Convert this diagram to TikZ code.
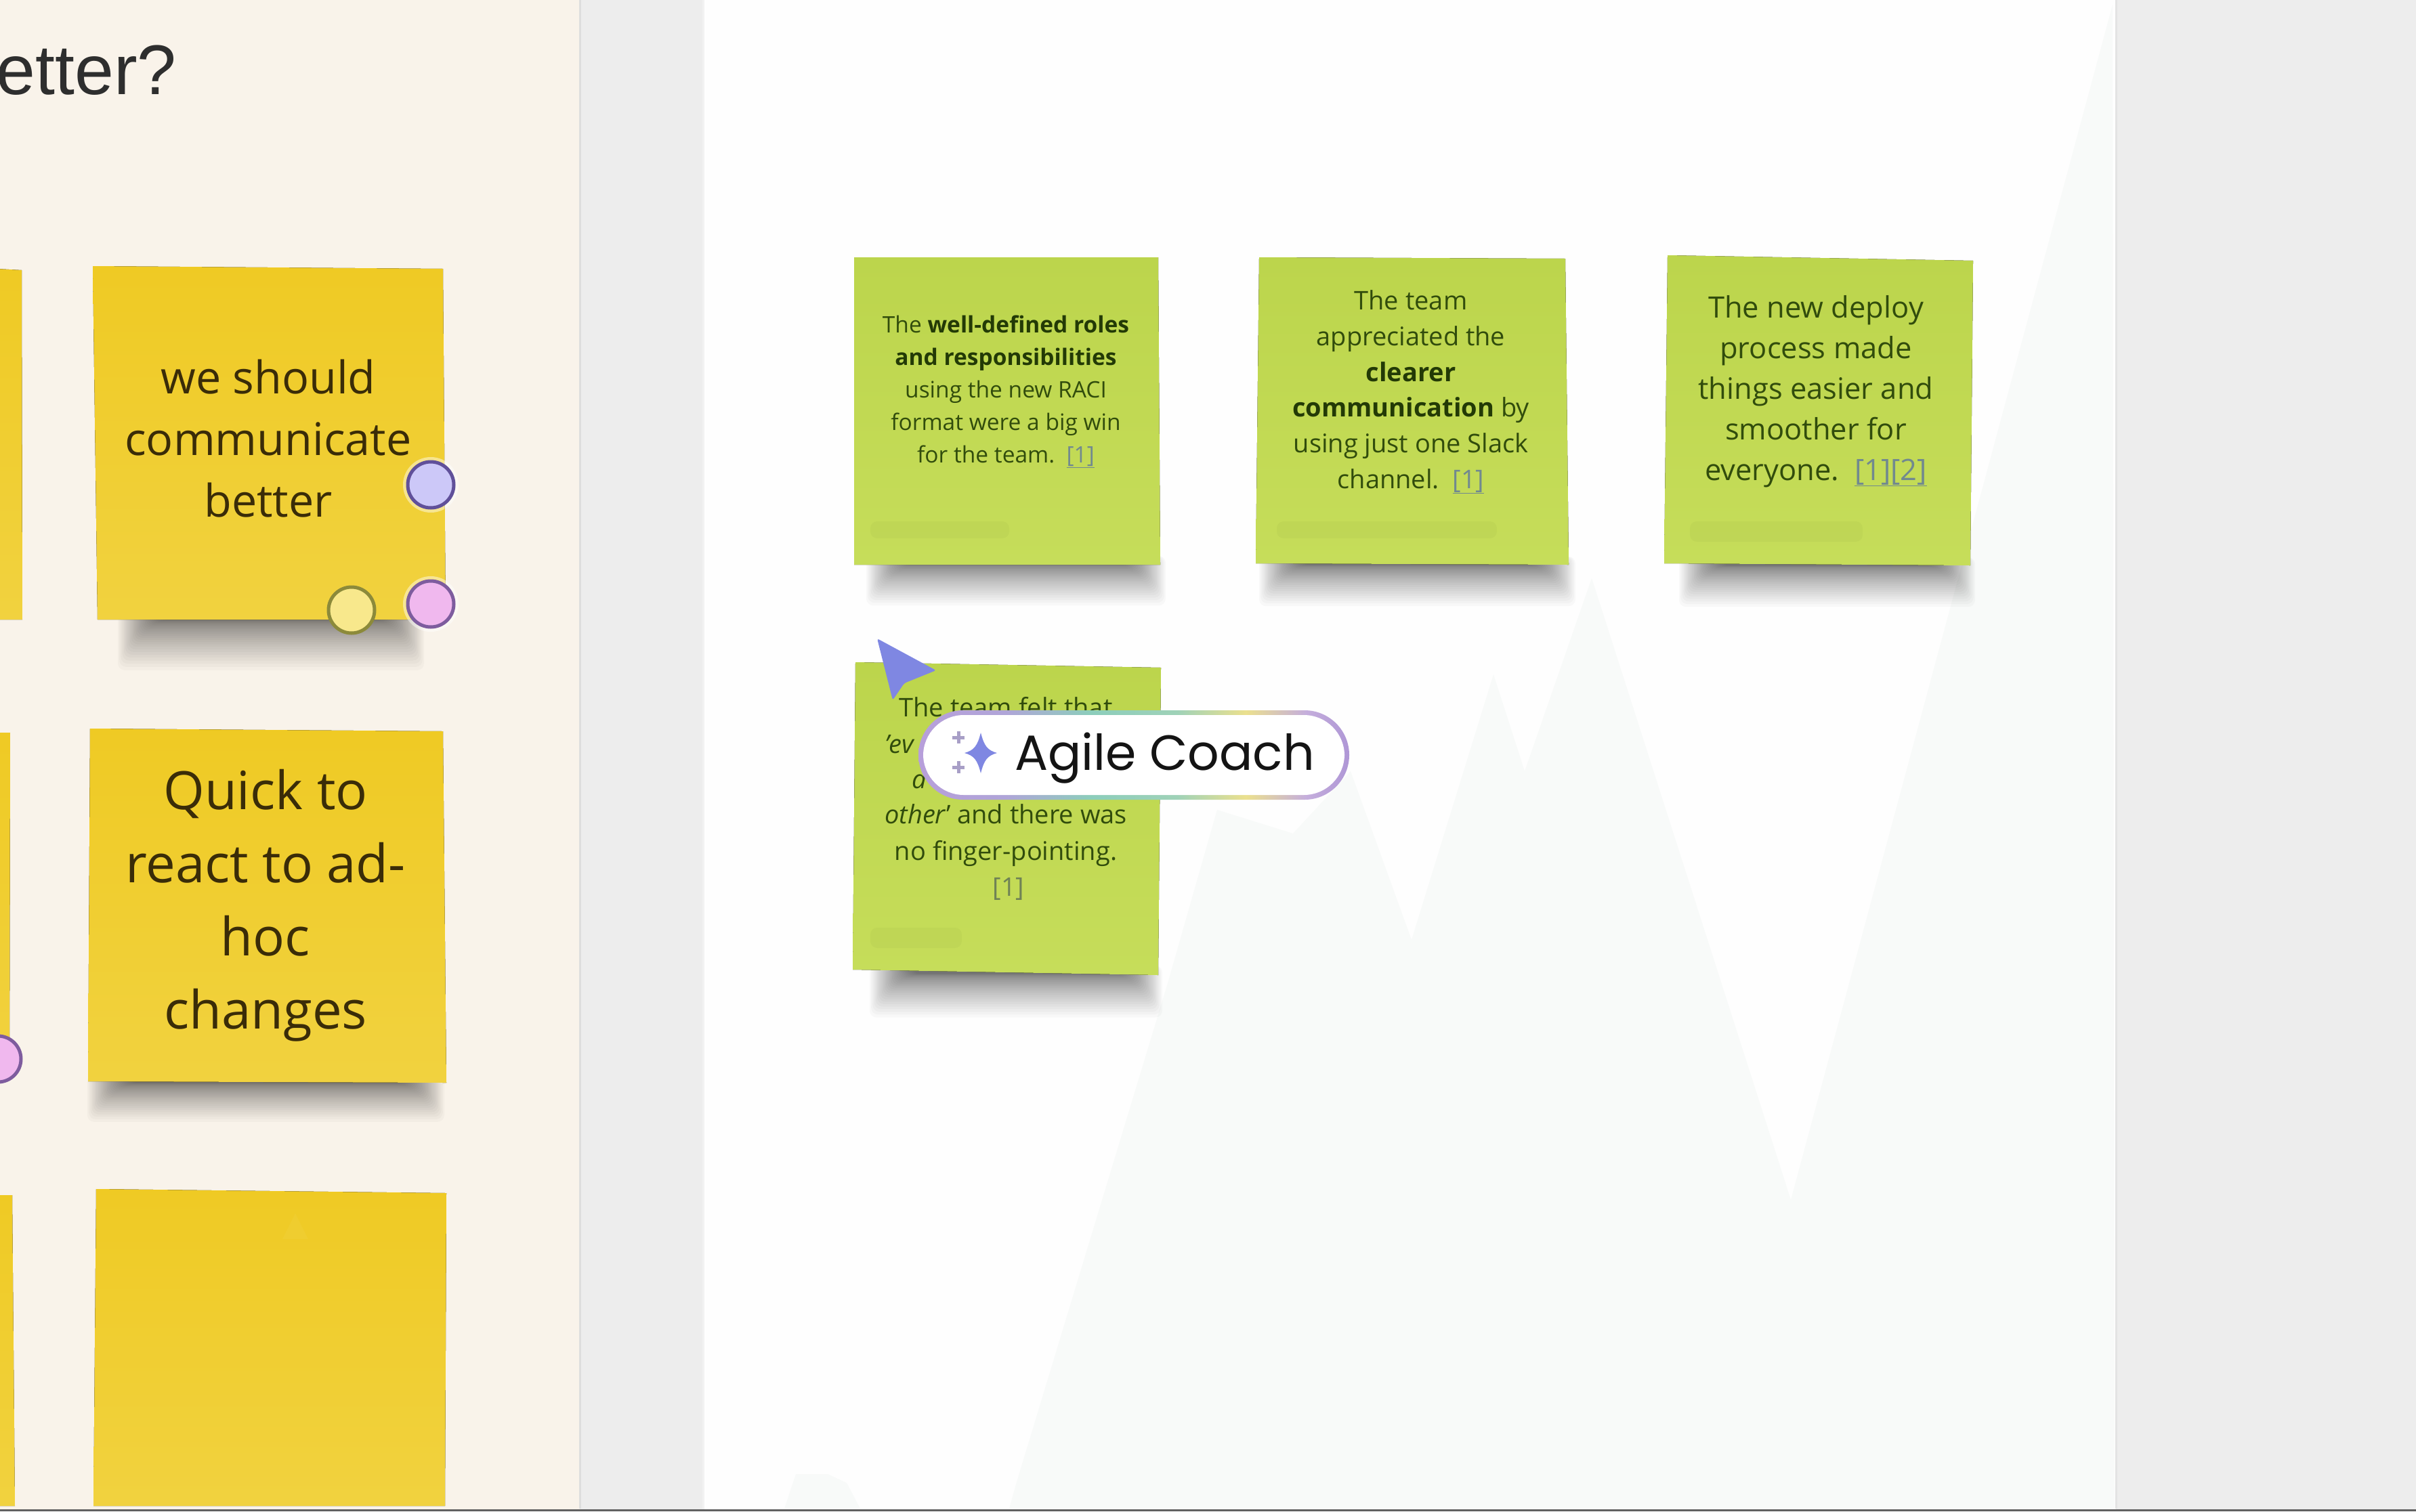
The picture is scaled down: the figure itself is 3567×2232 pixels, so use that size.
\documentclass[tikz,border=0pt]{standalone}
\usepackage{fontspec}
\setmainfont{Open Sans}
\newfontfamily\pillfont{Poppins}
\newfontfamily\titlefont{Liberation Sans}
\definecolor{cream}{HTML}{F9F3EA}
\definecolor{greypanel}{HTML}{EDEDED}
\definecolor{whitepanel}{HTML}{FEFEFE}
\definecolor{mountain}{HTML}{F8FAF9}
\definecolor{yelltop}{HTML}{EFCA24}
\definecolor{yellbot}{HTML}{F1D23F}
\definecolor{greentop}{HTML}{BCD54C}
\definecolor{greenbot}{HTML}{C6DD5A}
\definecolor{yelltext}{HTML}{3A2C08}
\definecolor{greentext}{HTML}{314C0C}
\definecolor{greenbold}{HTML}{233A06}
\definecolor{citecol}{HTML}{71898F}
\definecolor{cursorblue}{HTML}{7F87E2}
\definecolor{mpurple}{HTML}{CCC8F8}
\definecolor{mpurpleline}{HTML}{60509A}
\definecolor{mpink}{HTML}{F0B8EE}
\definecolor{mpinkline}{HTML}{7E5C9E}
\definecolor{myellow}{HTML}{F8E88C}
\definecolor{myellowline}{HTML}{8C8A3A}
\definecolor{pa}{HTML}{B79FDA}
\definecolor{pb}{HTML}{B0A5D8}
\definecolor{pc}{HTML}{8CCDBB}
\definecolor{pd}{HTML}{9FD2B8}
\definecolor{pe}{HTML}{EBE08E}
\definecolor{pf}{HTML}{C5AEDC}
\definecolor{pg}{HTML}{AF97D6}
\pgfdeclarehorizontalshading{pillgrad}{100bp}{color(0bp)=(pa);color(25bp)=(pa);color(35bp)=(pb);color(45bp)=(pc);color(55bp)=(pd);color(63bp)=(pe);color(70bp)=(pf);color(75bp)=(pg);color(100bp)=(pg)}
\tikzset{
  x=1pt,y=-1pt,
  yellownote/.style={top color=yelltop,bottom color=yellbot,draw=none},
  greennote/.style={top color=greentop,bottom color=greenbot,draw=none},
  yellowtext/.style={text=yelltext,align=center,inner sep=0pt},
  greentxt/.style={text=greentext,align=center,inner sep=0pt},
  marker/.style={circle,inner sep=0pt,minimum size=68pt,line width=5pt},
  halo/.style={circle,inner sep=0pt,minimum size=82pt,fill=white,opacity=.45},
  blob/.style={fill=greentext,opacity=.035,rounded corners=10pt},
}
\newcommand{\softshadow}[4]{% x1,x2,ytop,height
  \foreach \i in {1,...,30}{
    \fill[black,opacity=.022,rounded corners=10pt]
      ({#1-\i*2.2},{#3-12}) rectangle ({#2+\i*2.2},{#3+#4*1.7*(\i/30)*(\i/30)});
  }}
\newcommand{\citeref}[1]{\textcolor{citecol}{\underline{#1}}}
\begin{document}
\begin{tikzpicture}
\useasboundingbox (0,0) rectangle (3567,2232);
% panels
\fill[cream] (0,0) rectangle (856,2232);
\fill[greypanel] (856,0) rectangle (1040,2232);
\fill[whitepanel] (1040,0) rectangle (3124,2232);
\fill[greypanel] (3124,0) rectangle (3567,2232);
\fill[mountain] (1490,2228) -- (1500,2192) -- (1724,1452) -- (1797,1196) -- (1909,1231) -- (1994,1139) -- (2084,1388) -- (2205,996) -- (2251,1139) -- (2350,854) -- (2644,1772) -- (3119,7) -- (3122,2228) -- cycle;
\fill[mountain] (1158,2228) -- (1175,2177) -- (1222,2177) -- (1250,2190) -- (1270,2228) -- cycle;
\draw[line width=3pt,draw=black!13] (856,0) -- (856,2228);
\draw[line width=3pt,draw=black!5] (1038,0) -- (1038,2228);
\draw[line width=3pt,draw=black!11] (3124,0) -- (3124,2228);
% title
\node[anchor=base east,inner sep=0pt,text=black!82,font=\titlefont\fontsize{104}{110}\selectfont] (title) at (261,139) {etter?};
% yellow notes, left strip
\fill[yellownote] (-5,397) -- (32,399) -- (33,915) -- (-5,915) -- cycle;
\fill[yellownote] (-5,1082) -- (15,1082) -- (14,1590) -- (-5,1590) -- cycle;
\fill[yellownote] (-5,1765) -- (18,1765) -- (22,2224) -- (-5,2224) -- cycle;
% note A
\softshadow{240}{560}{915}{44}
\fill[yellownote] (137,393) -- (654,397) -- (658,915) -- (144,915) -- cycle;
\node[yellowtext,font=\fontsize{66.5}{91}\selectfont] (noteA) at (396,648) {we should\\communicate\\better};
% note B
\softshadow{195}{590}{1599}{34}
\fill[yellownote] (133,1076) -- (654,1080) -- (659,1599) -- (130,1597) -- cycle;
\node[yellowtext,font=\fontsize{78}{108}\selectfont] (noteB) at (392,1337) {Quick to\\react to ad-\\hoc\\changes};
% note C
\fill[yellownote] (142,1756) -- (659,1762) -- (657,2224) -- (138,2224) -- cycle;
\fill[yellbot,opacity=.35] (436,1792) -- (455,1830) -- (417,1830) -- cycle;
% markers
\node[halo] (haloA) at (636,716) {};
\node[marker,fill=mpurple,draw=mpurpleline] (m1) at (636,716) {};
\node[halo] (haloB) at (636,892) {};
\node[marker,fill=mpink,draw=mpinkline] (m2) at (636,892) {};
\node[marker,fill=myellow,draw=myellowline] (m3) at (519,901) {};
\node[marker,fill=mpink,draw=mpinkline] (m4) at (-3,1564) {};
% green notes
\softshadow{1345}{1655}{833}{36}
\fill[greennote] (1261,380) -- (1710,380) -- (1713,834) -- (1261,834) -- cycle;
\fill[blob] (1285,770) rectangle (1490,795);
\node[greentxt,font=\fontsize{33.5}{48}\selectfont] (n1) at (1485,578) {The \textcolor{greenbold}{\bfseries well-defined roles}\\\textcolor{greenbold}{\bfseries and responsibilities}\\using the new RACI\\format were a big win\\for the team.\ \ \citeref{[1]}};
\softshadow{1925}{2260}{834}{36}
\fill[greennote] (1859,380) -- (2311,382) -- (2316,834) -- (1854,832) -- cycle;
\fill[blob] (1885,770) rectangle (2210,795);
\node[greentxt,font=\fontsize{38}{52.7}\selectfont] (n2) at (2083,579) {The team\\appreciated the\\\textcolor{greenbold}{\bfseries clearer}\\\textcolor{greenbold}{\bfseries communication} by\\using just one Slack\\channel.\ \ \citeref{[1]}};
\softshadow{2545}{2850}{835}{36}
\fill[greennote] (2462,377) -- (2913,385) -- (2909,835) -- (2457,832) -- cycle;
\fill[blob] (2495,770) rectangle (2750,800);
\node[greentxt,font=\fontsize{43.5}{60}\selectfont] (n3) at (2681,578) {The new deploy\\process made\\things easier and\\smoother for\\everyone.\ \ \citeref{[1][2]}};
\softshadow{1350}{1650}{1438}{38}
\fill[greennote] (1263,978) -- (1714,986) -- (1710,1440) -- (1259,1432) -- cycle;
\fill[blob] (1285,1370) rectangle (1420,1400);
\node[greentxt,anchor=base,font=\fontsize{38}{53}\selectfont] (n4a) at (1485,1058) {The team felt that};
\node[greentxt,anchor=base west,font=\itshape\fontsize{38}{53}\selectfont] (n4b) at (1306,1112) {'ev};
\node[greentxt,anchor=base west,font=\itshape\fontsize{38}{53}\selectfont] (n4c) at (1346,1164) {d};
\node[greentxt,anchor=base,font=\fontsize{38}{53}\selectfont] (n4d) at (1485,1216) {\textit{other}' and there was};
\node[greentxt,anchor=base,font=\fontsize{38}{53}\selectfont] (n4e) at (1485,1270) {no finger-pointing.};
\node[greentxt,anchor=base,font=\fontsize{38}{53}\selectfont,text=greentext!70!white] (n4f) at (1489,1323) {[1]};
% pill
\node[rounded corners=66pt,minimum width=636pt,minimum height=132pt,inner sep=0pt,shade,shading=pillgrad] (pillouter) at (1674,1115) {};
\node[rounded corners=60pt,minimum width=622pt,minimum height=118pt,inner sep=0pt,fill=white] (pill) at (1674,1115) {};
\node[anchor=base west,inner sep=0pt,text=black!92,font=\pillfont\fontsize{73}{80}\selectfont] (pilltext) at (1498,1137) {Agile Coach};
% sparkles
\fill[cursorblue] (1448,1082) .. controls (1453,1102) and (1458,1108) .. (1472,1112) .. controls (1458,1116) and (1453,1122) .. (1448,1142) .. controls (1443,1122) and (1438,1116) .. (1424,1112) .. controls (1438,1108) and (1443,1102) .. (1448,1082) -- cycle;
\draw[line width=5pt,draw=mpurpleline!55!white] (1415,1080) -- (1415,1098) (1406,1089) -- (1424,1089) (1415,1124) -- (1415,1142) (1406,1133) -- (1424,1133);
% cursor
\fill[cursorblue,rounded corners=3pt] (1295,943) -- (1382,990) -- (1335,1009) -- (1318,1034) -- cycle;
% bottom bar
\fill[black!62] (0,2229) rectangle (3567,2232);
\end{tikzpicture}
\end{document}
